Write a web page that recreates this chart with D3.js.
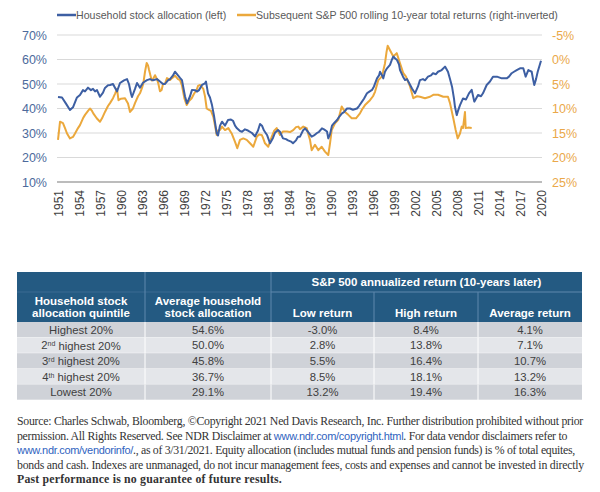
<!DOCTYPE html>
<html><head><meta charset="utf-8">
<script src="https://cdn.jsdelivr.net/npm/d3@7"></script>
<style>html,body{margin:0;padding:0;background:#fff;}svg{display:block;}</style>
</head><body>
<svg id="c" width="600" height="492"></svg>
<script>
// ---------- DATA ----------
const yearTicks = d3.range(1951, 2021, 3);
const leftTicks = [10, 20, 30, 40, 50, 60, 70];
const rightTicks = [-5, 0, 5, 10, 15, 20, 25];
const legendLabels = ["Household stock allocation (left)", "Subsequent S&P 500 rolling 10-year total returns (right-inverted)"];

// Household stock allocation (%), [year, value]
const allocation = [
[1951.0,44.7],[1951.57,44.5],[1952.14,42],[1952.71,39.4],[1953.14,40.5],[1953.71,44.5],[1954.14,45.5],[1954.57,47.5],[1954.86,47],
[1955.29,48.5],[1955.71,47.5],[1956.0,48],[1956.29,47],[1956.57,47.5],[1957.0,44.8],[1957.43,46.5],[1957.71,48.4],[1958.14,49.5],
[1958.43,49.6],[1958.86,50],[1959.14,48.5],[1959.43,47],[1959.86,50.4],[1960.43,51.5],[1960.86,52],[1961.14,50],[1961.43,46],
[1961.57,44.7],[1962.0,48],[1962.29,50.4],[1962.71,48.5],[1963.14,50.5],[1963.71,51.6],[1964.14,52],[1964.57,51.5],[1965.14,52],
[1965.57,51],[1966.0,50],[1966.29,50],[1966.71,51.5],[1967.0,52],[1967.43,53.5],[1967.71,55],[1968.0,54],[1968.43,52.5],[1968.71,51.6],
[1969.14,45],[1969.43,42.1],[1969.86,45],[1970.14,47.6],[1970.57,47.5],[1970.86,46.9],[1971.14,47.5],[1971.57,49.6],[1972.0,50.3],
[1972.14,51],[1972.43,46.2],[1972.71,44.5],[1973.0,41.4],[1973.29,37],[1973.67,29.9],[1973.86,29],[1974.14,33],[1974.43,34.6],
[1974.86,33],[1975.29,35.3],[1975.71,35.5],[1976.0,35],[1976.29,33],[1976.57,31.9],[1977.0,30.8],[1977.29,30.5],[1977.71,31.5],
[1978.14,31],[1978.71,30],[1979.14,28.6],[1979.57,31],[1979.86,33.7],[1980.14,33],[1980.43,31],[1980.86,29.2],[1981.29,25.8],
[1981.71,28],[1982.0,30.1],[1982.43,31.2],[1982.71,30.5],[1983.14,27.8],[1983.57,27.5],[1983.86,27],[1984.29,26.5],[1984.57,25.8],
[1985.0,27],[1985.29,28.5],[1985.57,28.5],[1986.0,31],[1986.29,31.9],[1986.71,30.5],[1987.24,28.5],[1987.57,29],[1988.0,30],
[1988.29,30.5],[1988.71,31.9],[1989.0,31.5],[1989.43,30.6],[1989.61,27.8],[1989.86,29.5],[1990.14,33],[1990.43,34],[1990.86,35.3],
[1991.14,36.5],[1991.57,38],[1991.86,38.5],[1992.29,40],[1992.71,40],[1993.14,39.5],[1993.71,40],[1994.0,41],[1994.43,42.8],
[1994.71,44],[1995.14,46.2],[1995.43,46.8],[1995.86,47.6],[1996.14,49],[1996.57,52.3],[1996.86,53.5],[1997.0,55],[1997.29,53.5],
[1997.47,52.3],[1997.71,55],[1998.0,56.4],[1998.43,57.8],[1998.71,60],[1998.9,61.2],[1999.14,60.5],[1999.43,59.8],[1999.71,58],
[1999.86,55.7],[2000.29,53],[2000.57,51.6],[2000.86,52],[2001.14,50.5],[2001.57,48.2],[2002.0,46.2],[2002.43,49],[2002.71,51.6],
[2003.14,52],[2003.43,51.5],[2003.86,53],[2004.29,53.5],[2004.57,54.4],[2005.0,54],[2005.29,55],[2005.81,55.7],[2006.29,57.1],
[2006.71,55],[2007.0,52],[2007.29,48.9],[2007.57,44],[2007.71,40.7],[2007.96,37.3],[2008.14,39],[2008.43,41.4],[2008.86,44.1],
[2009.29,43.7],[2009.71,46.2],[2010.1,47.6],[2010.47,42.8],[2010.71,44],[2011.0,45.5],[2011.43,45],[2011.71,46.2],[2012.24,49.6],
[2012.71,51],[2013.14,53],[2013.71,53],[2014.39,52.3],[2015.1,52.3],[2015.43,53],[2015.81,54.4],[2016.14,55],[2016.53,55.7],
[2017.0,56.4],[2017.47,56.4],[2017.81,53],[2018.19,55.7],[2018.67,55],[2018.86,52],[2019.04,49.6],[2019.29,52],[2019.53,55],[2020.0,59.5]
];

// Subsequent S&P 500 rolling 10-year total returns (%), right axis inverted, [year, value]
const returns10y = [
[1951.0,16.4],[1951.29,12.7],[1951.71,13],[1952.0,14],[1952.29,15.1],[1952.71,16.1],[1953.14,15.8],[1953.43,15.1],[1953.86,14],
[1954.14,13.4],[1954.57,12],[1954.86,11.3],[1955.29,10.5],[1955.57,10],[1955.86,10.5],[1956.04,11],[1956.53,12],[1957.0,12.7],
[1957.29,12],[1957.71,10.7],[1958.14,9.5],[1958.43,8.9],[1958.86,7.9],[1959.14,7],[1959.43,6],[1959.64,8.3],[1960.0,8],[1960.57,7.9],
[1961.0,9],[1961.29,10.7],[1961.71,10],[1962.0,8.9],[1962.43,7.5],[1962.71,6.9],[1963.0,5.8],[1963.19,4.9],[1963.43,2.5],[1963.67,0.7],
[1963.86,1.2],[1964.0,2.1],[1964.39,4.3],[1964.57,4],[1964.86,3.2],[1965.14,4],[1965.33,4.9],[1965.57,6.5],[1965.81,6.2],[1966.0,5],
[1966.29,4.9],[1966.57,3.8],[1967.0,4.2],[1967.29,3.8],[1967.71,3.3],[1968.14,4],[1968.43,4.2],[1968.71,5.3],[1969.07,8],[1969.39,9.3],
[1969.71,8.5],[1970.1,7.9],[1970.43,7],[1970.81,6.2],[1971.0,5.4],[1971.29,5.2],[1971.76,6],[1972.0,7.5],[1972.24,10],[1972.57,10.3],
[1972.86,10.5],[1973.19,11.7],[1973.43,13.5],[1973.67,15.4],[1973.86,14.5],[1974.14,14.4],[1974.43,13.7],[1974.86,14.4],[1975.33,14],
[1975.81,15.1],[1976.29,16.8],[1976.61,18.1],[1977.0,16.4],[1977.47,16.1],[1977.96,16.4],[1978.43,17.1],[1978.9,17.8],[1979.39,15.8],
[1979.71,15.3],[1980.1,15.4],[1980.29,16],[1980.57,17.1],[1981.04,17.8],[1981.53,15.8],[1981.86,14.6],[1982.24,14],[1982.71,15.4],
[1983.14,14.7],[1983.71,14.7],[1984.14,14.8],[1984.61,14.4],[1985.0,13.8],[1985.33,13.7],[1985.57,14.2],[1986.04,13.7],[1986.53,14],
[1986.71,15],[1987.0,16.4],[1987.24,18.5],[1987.71,17.4],[1988.19,18.5],[1988.67,17.8],[1989.14,18.8],[1989.61,19.5],[1989.86,17.1],
[1990.1,14.4],[1990.57,13],[1991.04,12.3],[1991.53,9.6],[1992.0,10.7],[1992.47,11.3],[1992.96,12],[1993.57,12],[1994.14,11],
[1994.43,10.2],[1994.86,9.3],[1995.57,8.3],[1996.0,7.5],[1996.29,6.6],[1996.76,4.2],[1997.24,3.5],[1997.43,2.5],[1997.71,0.8],
[1997.93,-1.5],[1998.1,-2.8],[1998.43,-1.9],[1998.9,-0.6],[1999.39,-1.3],[1999.86,0.8],[2000.33,2.8],[2000.71,3.5],[2001.29,5.5],
[2001.76,7.9],[2002.29,7.5],[2002.71,7.6],[2003.43,7.9],[2004.14,7.6],[2004.61,7.2],[2005.29,7.2],[2006.04,7.6],[2006.71,7.6],
[2007.0,8.9],[2007.47,12],[2007.81,14.4],[2008.1,16.1],[2008.43,15.1],[2008.67,13.7],[2008.86,14],[2009.14,10.7],[2009.24,14],
[2009.61,13.9],[2010.1,14]
];

// Table
const tableSpanTitle = "S&P 500 annualized return (10-years later)";
const tableHeaders = [["Household stock", "allocation quintile"], ["Average household", "stock allocation"], ["Low return"], ["High return"], ["Average return"]];
const quintiles = ["Highest 20%", "2nd highest 20%", "3rd highest 20%", "4th highest 20%", "Lowest 20%"];
const avgAllocation = [54.6, 50.0, 45.8, 36.7, 29.1];
const lowReturn = [-3.0, 2.8, 5.5, 8.5, 13.2];
const highReturn = [8.4, 13.8, 16.4, 18.1, 19.4];
const avgReturn = [4.1, 7.1, 10.7, 13.2, 16.3];

// Footnote (0 = text, 1 = link, 2 = bold)
const footLines = [
  [["Source: Charles Schwab, Bloomberg, \u00A9Copyright 2021 Ned Davis Research, Inc. Further distribution prohibited without prior", 0]],
  [["permission. All Rights Reserved. See NDR Disclaimer at ", 0], ["www.ndr.com/copyright.html", 1], [". For data vendor disclaimers refer to", 0]],
  [["www.ndr.com/vendorinfo/", 1], ["., as of 3/31/2021. Equity allocation (includes mutual funds and pension funds) is % of total equites,", 0]],
  [["bonds and cash. Indexes are unmanaged, do not incur management fees, costs and expenses and cannot be invested in directly", 0]],
  [["Past performance is no guarantee of future results.", 2]]
];

// ---------- STYLE ----------
const BLUE = "#3d5fa3", GOLD = "#eba83c";
const SANS = "'Liberation Sans', Arial, sans-serif";
const SERIF = "'Liberation Serif', 'DejaVu Serif', serif";

const svg = d3.select("#c");

// ---------- CHART ----------
const x = d3.scaleLinear().domain([1951, 2020]).range([58, 541]);
const yL = d3.scaleLinear().domain([10, 70]).range([182, 35]);
const yR = d3.scaleLinear().domain([-5, 25]).range([35, 182]);

svg.append("g").selectAll("line").data(leftTicks.filter(d => d > 10)).join("line")
  .attr("x1", 57).attr("x2", 542).attr("y1", d => yL(d)).attr("y2", d => yL(d))
  .attr("stroke", "#d9d9d9").attr("stroke-width", 1);
svg.append("line").attr("x1", 57).attr("x2", 542).attr("y1", yL(10)).attr("y2", yL(10))
  .attr("stroke", "#a6a6a6").attr("stroke-width", 1.3);

const gL = svg.append("g").attr("transform", "translate(50,0)")
  .call(d3.axisLeft(yL).tickValues(leftTicks).tickFormat(d => d + "%").tickSize(0).tickPadding(3));
gL.select(".domain").remove();
gL.selectAll("text").attr("fill", "#4d6a9c").attr("font-size", 12.5).attr("font-family", SANS);

const gR = svg.append("g").attr("transform", "translate(549,0)")
  .call(d3.axisRight(yR).tickValues(rightTicks).tickFormat(d => (d < 0 ? "-" + Math.abs(d) : d) + "%").tickSize(0).tickPadding(3));
gR.select(".domain").remove();
gR.selectAll("text").attr("fill", "#eaa84a").attr("font-size", 12.5).attr("font-family", SANS);

const gB = svg.append("g").attr("transform", "translate(0,182)")
  .call(d3.axisBottom(x).tickValues(yearTicks).tickFormat(d3.format("d")).tickSize(0));
gB.select(".domain").remove();
gB.selectAll("text")
  .attr("transform", "translate(0,8) rotate(-90)")
  .attr("x", 0).attr("y", 0).attr("dy", "0.35em")
  .attr("text-anchor", "end")
  .attr("fill", "#404040").attr("font-size", 12).attr("font-family", SANS);

const lineL = d3.line().x(d => x(d[0])).y(d => yL(d[1]));
const lineR = d3.line().x(d => x(d[0])).y(d => yR(d[1]));
svg.append("path").datum(returns10y).attr("d", lineR).attr("fill", "none")
  .attr("stroke", GOLD).attr("stroke-width", 2).attr("stroke-linejoin", "round");
svg.append("path").datum(allocation).attr("d", lineL).attr("fill", "none")
  .attr("stroke", BLUE).attr("stroke-width", 2).attr("stroke-linejoin", "round");

const legendItems = [{x: 57, c: BLUE, t: legendLabels[0]}, {x: 237, c: GOLD, t: legendLabels[1]}];
const lg = svg.append("g").selectAll("g").data(legendItems).join("g");
lg.append("line").attr("x1", d => d.x).attr("x2", d => d.x + 19).attr("y1", 15).attr("y2", 15)
  .attr("stroke", d => d.c).attr("stroke-width", 2.5);
lg.append("text").attr("x", d => d.x + 19).attr("y", 15).attr("dy", "0.35em")
  .attr("font-family", SANS).attr("font-size", 10.6).attr("fill", "#595959").text(d => d.t);

// ---------- TABLE ----------
const colX = [17, 145, 271, 374, 478, 582];
const HEAD = "#245a82";
const hTop = 272, hMid = 292, hBot = 322, rowH = 15.6;
svg.append("rect").attr("x", colX[0]).attr("y", hTop).attr("width", colX[5] - colX[0]).attr("height", hBot - hTop).attr("fill", HEAD);
svg.append("line").attr("x1", colX[2]).attr("x2", colX[5]).attr("y1", hMid).attr("y2", hMid).attr("stroke", "#5f88ad").attr("stroke-width", 1);
svg.append("line").attr("x1", colX[0]).attr("x2", colX[2]).attr("y1", hMid).attr("y2", hMid).attr("stroke", "#3a6b92").attr("stroke-width", 1);
svg.append("g").selectAll("line").data([colX[1], colX[2]]).join("line")
  .attr("x1", d => d).attr("x2", d => d).attr("y1", hTop).attr("y2", hBot).attr("stroke", "#5f88ad");
svg.append("g").selectAll("line").data([colX[3], colX[4]]).join("line")
  .attr("x1", d => d).attr("x2", d => d).attr("y1", hMid).attr("y2", hBot).attr("stroke", "#5f88ad");
svg.append("text").attr("x", (colX[2] + colX[5]) / 2).attr("y", 286).attr("text-anchor", "middle")
  .attr("font-family", SANS).attr("font-weight", "bold").attr("font-size", 11.5).attr("fill", "#fff").text(tableSpanTitle);
tableHeaders.forEach((lines, i) => {
  const cx = (colX[i] + colX[i + 1]) / 2;
  const t = svg.append("text").attr("text-anchor", "middle").attr("font-family", SANS)
    .attr("font-weight", "bold").attr("font-size", 11.5).attr("fill", "#fff");
  const start = 317 - (lines.length - 1) * 11.7;
  lines.forEach((l, j) => t.append("tspan").attr("x", cx).attr("y", start + j * 11.7).text(l));
});

const fmt = d => (d < 0 ? "-" : "") + d3.format(".1f")(Math.abs(d)) + "%";
const rows = quintiles.map((q, i) => [q, fmt(avgAllocation[i]), fmt(lowReturn[i]), fmt(highReturn[i]), fmt(avgReturn[i])]);
const rowG = svg.append("g").selectAll("g").data(rows).join("g")
  .attr("transform", (d, i) => `translate(0,${hBot + i * rowH})`);
rowG.append("rect").attr("x", colX[0]).attr("y", 0).attr("width", colX[5] - colX[0]).attr("height", rowH)
  .attr("fill", (d, i) => i % 2 === 0 ? "#cfd2d8" : "#e4e6ea");
rowG.selectAll("line.v").data([colX[1], colX[2], colX[3], colX[4]]).join("line").attr("class", "v")
  .attr("x1", d => d).attr("x2", d => d).attr("y1", 0).attr("y2", rowH).attr("stroke", "#fff").attr("stroke-width", 1);
rowG.append("line").attr("x1", colX[0]).attr("x2", colX[5]).attr("y1", rowH).attr("y2", rowH).attr("stroke", "#fff").attr("stroke-opacity", 0.6);
rowG.each(function(r) {
  const g = d3.select(this);
  r.forEach((v, j) => {
    const t = g.append("text").attr("x", (colX[j] + colX[j + 1]) / 2).attr("y", rowH / 2).attr("dy", "0.36em")
      .attr("text-anchor", "middle").attr("font-family", SANS).attr("font-size", 11.3).attr("fill", "#404040");
    const m = j === 0 ? /^(\d)(st|nd|rd|th)(.*)$/.exec(v) : null;
    if (m) {
      t.append("tspan").text(m[1]);
      t.append("tspan").attr("font-size", 7).attr("dy", "-0.45em").text(m[2]);
      t.append("tspan").attr("dy", "0.3em").text(m[3]);
    } else t.text(v);
  });
});

// ---------- FOOTNOTE ----------
const footWidths = [566, 550, 556, 567, 265];
footLines.forEach((parts, i) => {
  const t = svg.append("text").attr("x", 17).attr("y", 425 + i * 14.5)
    .attr("font-family", SERIF).attr("font-size", 11.8).attr("fill", "#333");
  parts.forEach(([s, k]) => {
    const ts = t.append("tspan").text(s);
    if (k === 1) ts.attr("fill", "#2f63c0").attr("font-family", SANS).attr("font-size", 11);
    if (k === 2) ts.attr("font-weight", "bold");
  });
  // spread letters slightly so each line spans the same width as the reference
  const natural = t.node().getComputedTextLength();
  const nChars = parts.reduce((a, p) => a + p[0].length, 0);
  const ls = (footWidths[i] - natural) / nChars;
  t.attr("letter-spacing", Math.max(-0.3, Math.min(0.4, ls)).toFixed(3));
});
</script>
</body></html>
